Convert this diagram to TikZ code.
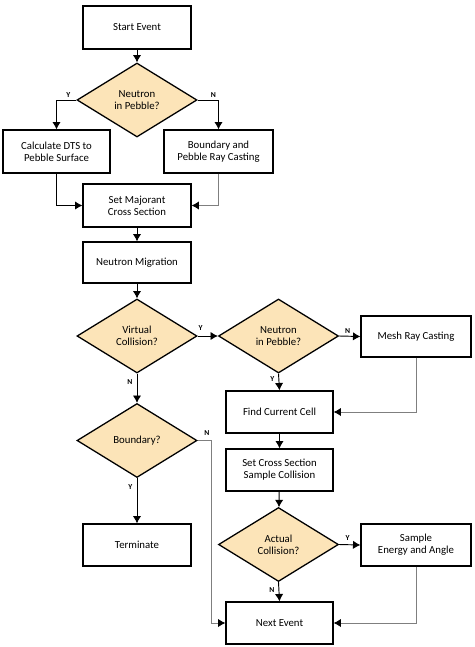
\documentclass[tikz,border=0pt]{standalone}
\usepackage{fontspec}
\setmainfont{Carlito}
\usetikzlibrary{shapes.geometric,arrows.meta}

\definecolor{decfill}{HTML}{FCE4B8}
\definecolor{backline}{HTML}{7F7F7F}

\tikzset{
  procbox/.style={draw,line width=1.1pt,fill=white,align=center,minimum width=3.24cm,minimum height=1.26cm,inner sep=1pt},
  decision/.style={diamond,draw,line width=1.1pt,fill=decfill,align=center,minimum width=3.6cm,minimum height=2.22cm,inner sep=0pt},
  flow/.style={line width=0.8pt,-{Latex[length=2.2mm,width=2.5mm]}},
  backflow/.style={draw=backline,line width=0.7pt,-{Latex[length=2.2mm,width=2.5mm,color=black]}},
  yn/.style={font=\fontsize{6.5}{7}\selectfont\bfseries,inner sep=1.5pt}
}

\begin{document}
\begin{tikzpicture}[x=0.03cm,y=-0.03cm,font=\fontsize{9.2}{10.3}\selectfont]
  \useasboundingbox (0,0) rectangle (474,647);
  % left column
  \node[procbox,minimum height=1.29cm] at (137,27.5) (start) {Start Event};
  \node[decision] at (137,100) (inpeb) {Neutron\\in Pebble?};
  \node[procbox,minimum height=1.29cm,minimum width=3.21cm] at (56.5,151.5) (dts) {Calculate DTS to\\Pebble Surface};
  \node[procbox,minimum height=1.29cm,minimum width=3.27cm] at (218.5,151.5) (bray) {Boundary and\\Pebble Ray Casting};
  \node[procbox,minimum height=1.29cm] at (137,205.5) (major) {Set Majorant\\Cross Section};
  \node[procbox,minimum height=1.23cm] at (137,262.5) (migr) {Neutron Migration};
  \node[decision] at (137,336) (virt) {Virtual\\Collision?};
  \node[decision] at (137,440.5) (bound) {Boundary?};
  \node[procbox] at (137,545) (term) {Terminate};
  % right column
  \node[decision] at (278.5,336) (inpeb2) {Neutron\\in Pebble?};
  \node[procbox,minimum width=3.3cm,minimum height=1.23cm] at (416,336.5) (mesh) {Mesh Ray Casting};
  \node[procbox,minimum width=3.21cm] at (279.5,412) (cell) {Find Current Cell};
  \node[procbox,minimum width=3.21cm] at (279.5,470) (xs) {Set Cross Section\\Sample Collision};
  \node[decision] at (278.5,544.5) (actual) {Actual\\Collision?};
  \node[procbox,minimum width=3.3cm] at (416,545) (sample) {Sample\\Energy and Angle};
  \node[procbox,minimum width=3.21cm] at (279.5,623) (next) {Next Event};
  \coordinate (bturn) at (211,440.5);

  % connectors
  \draw[flow] (start) -- (inpeb);
  \draw[flow] (inpeb.west) -| node[yn,pos=0.2,above] {Y} (dts.north);
  \draw[flow] (inpeb.east) -| node[yn,pos=0.38,above] {N} (bray.north);
  \draw[flow] (dts.south) |- (major.west);
  \draw[backflow] (bray.south) |- (major.east);
  \draw[flow] (major) -- (migr);
  \draw[flow] (migr) -- (virt);
  \draw[flow] (virt.east) -- node[yn,pos=0.15,above,yshift=3pt] {Y} (inpeb2.west);
  \draw[flow] (inpeb2.east) -- node[yn,pos=0.4,above] {N} (mesh.west);
  \draw[flow] (virt.south) -- node[yn,pos=0.3,left,xshift=-2pt] {N} (bound.north);
  \draw[flow] (inpeb2.south) -- node[yn,pos=0.35,left,xshift=-2pt] {Y} (cell.north);
  \draw[backflow] (mesh.south) |- (cell.east);
  \draw[flow] (cell) -- (xs);
  \draw[flow] (xs) -- (actual);
  \draw[flow] (actual.east) -- node[yn,pos=0.4,above,yshift=2pt] {Y} (sample.west);
  \draw[flow] (actual.south) -- node[yn,pos=0.4,left,xshift=-2pt] {N} (next.north);
  \draw[backflow] (sample.south) |- (next.east);
  \draw[flow] (bound.south) -- node[yn,pos=0.2,left,xshift=-2pt] {Y} (term.north);
  \draw[backflow] (bound.east) -- node[yn,pos=0.7,above,yshift=2pt] {N} (bturn) |- (next.west);
\end{tikzpicture}
\end{document}
